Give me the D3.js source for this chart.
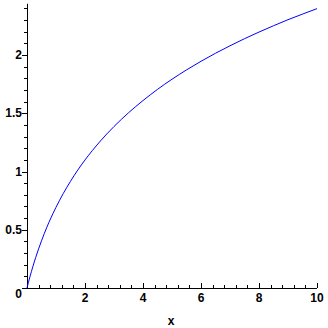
<!doctype html>
<html>
<head>
<meta charset="utf-8">
<script src="https://d3js.org/d3.v7.min.js"></script>
<style>
  body { margin: 0; background: #fff; }
  text { font-family: "Liberation Sans", Arial, sans-serif; font-weight: bold; font-size: 12px; }
</style>
</head>
<body>
<script>
// values
var xs = [0, 0.05, 0.1, 0.2, 0.3, 0.4, 0.5, 0.6, 0.75, 0.9, 1, 1.25, 1.5, 1.75, 2, 2.25, 2.5, 2.75, 3, 3.5, 4, 4.5, 5, 5.5, 6, 6.5, 7, 7.5, 8, 8.5, 9, 9.5, 10];
var ys = [0, 0.049, 0.095, 0.182, 0.262, 0.336, 0.405, 0.470, 0.560, 0.642, 0.693, 0.811, 0.916, 1.012, 1.099, 1.179, 1.253, 1.322, 1.386, 1.504, 1.609, 1.705, 1.792, 1.872, 1.946, 2.015, 2.079, 2.140, 2.197, 2.251, 2.303, 2.351, 2.398];
var xTicks = [0, 2, 4, 6, 8, 10];
var yTicks = [0, 0.5, 1, 1.5, 2];

var width = 328, height = 328;

var x = d3.scaleLinear().domain([0, 10]).range([27, 317]);
var y = d3.scaleLinear().domain([0, 2]).range([288, 55]);

var svg = d3.select("body").append("svg")
  .attr("width", width)
  .attr("height", height);

// y axis with minor ticks
var minorY = d3.range(0, 2.45, 0.1);
svg.append("line")
  .attr("x1", x(0) + 0.5).attr("x2", x(0) + 0.5)
  .attr("y1", y(0)).attr("y2", y(2.44))
  .attr("stroke", "#000");
svg.selectAll(".ymin").data(minorY).enter().append("line")
  .attr("x1", x(0) - 3).attr("x2", x(0))
  .attr("y1", function(d) { return Math.round(y(d)) + 0.5; })
  .attr("y2", function(d) { return Math.round(y(d)) + 0.5; })
  .attr("stroke", "#000");
svg.selectAll(".ymaj").data(yTicks).enter().append("line")
  .attr("x1", x(0) - 5).attr("x2", x(0))
  .attr("y1", function(d) { return Math.round(y(d)) + 0.5; })
  .attr("y2", function(d) { return Math.round(y(d)) + 0.5; })
  .attr("stroke", "#000");
// the shared "0" sits below-left of the origin
svg.selectAll(".ylab").data(yTicks).enter().append("text")
  .attr("x", 22)
  .attr("y", function(d) { return d == 0 ? 298 : y(d) + 4; })
  .attr("text-anchor", "end")
  .text(function(d) { return d; });

// x axis with minor ticks
var minorX = d3.range(0, 10.01, 0.4);
svg.append("line")
  .attr("x1", x(0)).attr("x2", x(10))
  .attr("y1", y(0) + 0.5).attr("y2", y(0) + 0.5)
  .attr("stroke", "#000");
svg.selectAll(".xmin").data(minorX).enter().append("line")
  .attr("x1", function(d) { return Math.round(x(d)) + 0.5; })
  .attr("x2", function(d) { return Math.round(x(d)) + 0.5; })
  .attr("y1", y(0) - 3).attr("y2", y(0))
  .attr("stroke", "#000");
svg.selectAll(".xmaj").data(xTicks).enter().append("line")
  .attr("x1", function(d) { return Math.round(x(d)) + 0.5; })
  .attr("x2", function(d) { return Math.round(x(d)) + 0.5; })
  .attr("y1", y(0) - 5).attr("y2", y(0))
  .attr("stroke", "#000");
svg.selectAll(".xlab").data(xTicks.filter(function(d) { return d != 0; })).enter().append("text")
  .attr("x", function(d) { return x(d); })
  .attr("y", 302)
  .attr("text-anchor", "middle")
  .text(function(d) { return d; });

svg.append("text")
  .attr("x", 171).attr("y", 325)
  .attr("text-anchor", "middle")
  .text("x");

// curve
var line = d3.line()
  .x(function(d, i) { return x(xs[i]); })
  .y(function(d) { return y(d); })
  .curve(d3.curveMonotoneX);

svg.append("path")
  .datum(ys)
  .attr("fill", "none")
  .attr("stroke", "#0000ff")
  .attr("stroke-width", 1)
  .attr("d", line);
</script>
</body>
</html>
